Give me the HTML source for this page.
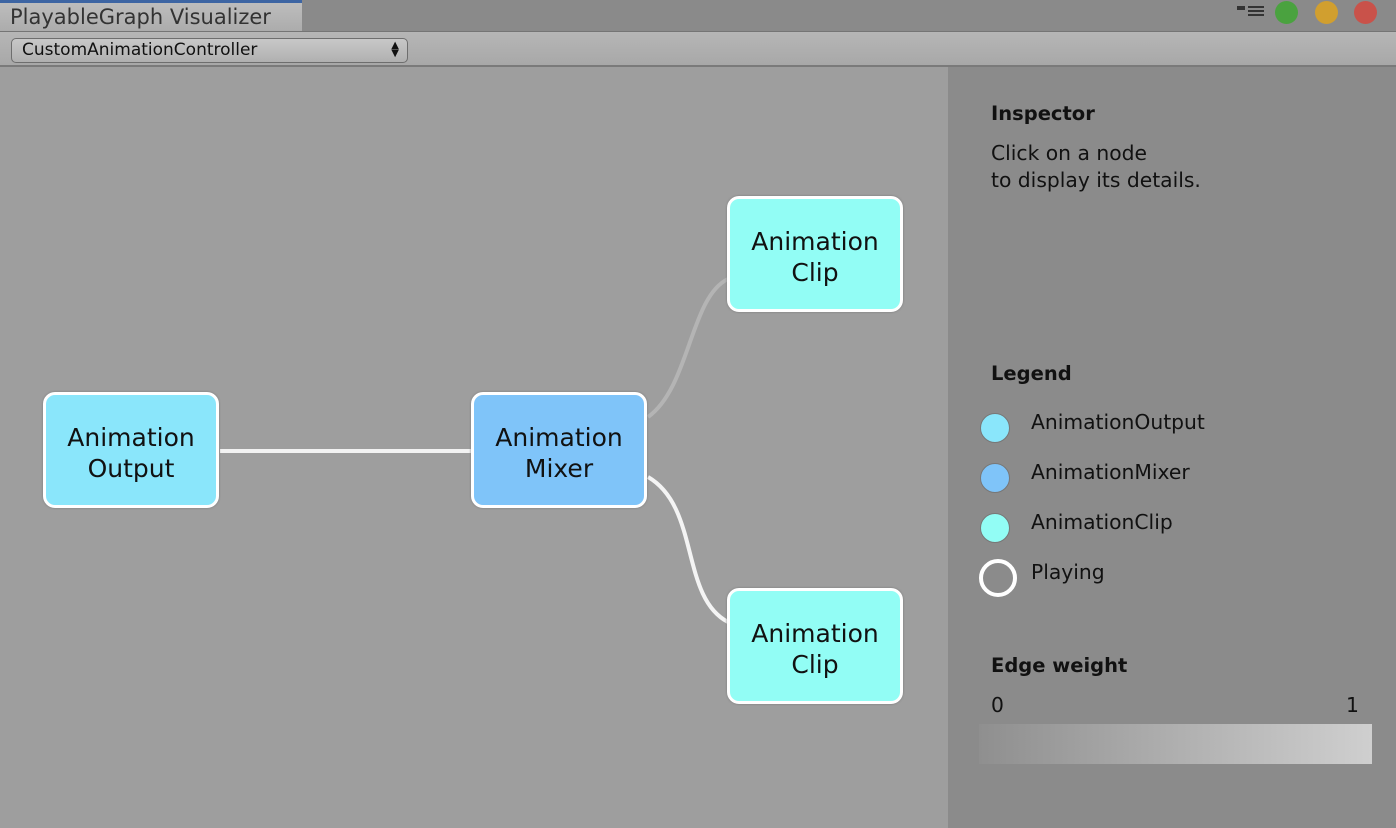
<!DOCTYPE html>
<html><head><style>
body{margin:0;width:1396px;height:828px;overflow:hidden;font-family:"DejaVu Sans",sans-serif;background:#9e9e9e;position:relative}
.top{position:absolute;left:0;top:0;width:1396px;height:31px;background:#8a8a8a}
.tab{position:absolute;left:0;top:0;width:302px;height:31px;background:linear-gradient(#bdbdbd,#acacac);border-top:3px solid #3d65a3;box-sizing:border-box;font-size:21px;color:#333;padding:2px 0 0 10px;white-space:nowrap}
.bar{position:absolute;left:0;top:31px;width:1396px;height:36px;background:linear-gradient(#b6b6b6,#a8a8a8);border-top:1px solid #757575;border-bottom:2px solid #7a7a7a;box-sizing:border-box}
.sel{position:absolute;left:11px;top:6px;width:397px;height:25px;border:1px solid #6e6e6e;border-radius:5px;background:linear-gradient(#c8c8c8,#b0b0b0);box-sizing:border-box;font-size:17px;padding:1px 0 0 10px;color:#111;white-space:nowrap}
.sel span{position:absolute;right:8px;top:3px;font-size:10px;line-height:8px}
.dot{position:absolute;top:1px;width:23px;height:23px;border-radius:50%}
.panel{position:absolute;left:948px;top:67px;width:448px;height:761px;background:#8b8b8b;color:#111;font-size:20.3px;white-space:nowrap}
.node{position:absolute;width:176px;height:116px;border:3px solid #fff;border-radius:12px;box-sizing:border-box;display:flex;align-items:center;justify-content:center;text-align:center;font-size:25px;line-height:31px;color:#111;box-shadow:0 0 2px #777;padding-top:5px}
.h{position:absolute;left:43px;font-weight:bold;font-size:19.5px}
.lg{position:absolute;left:32px;width:30px;height:30px;border-radius:50%;box-sizing:border-box}
.lt{position:absolute;left:83px}
</style></head><body>
<div class="top"><div class="tab">PlayableGraph Visualizer</div>
<div style="position:absolute;left:1237px;top:6px;width:8px;height:4px;background:#333"></div>
<div style="position:absolute;left:1248px;top:6px;width:16px;height:2px;background:#333;box-shadow:0 4px #333,0 8px #333"></div>
<div class="dot" style="left:1275px;background:#4aa23f"></div>
<div class="dot" style="left:1315px;background:#d19f2f"></div>
<div class="dot" style="left:1354px;background:#c9524a"></div></div>
<div class="bar"><div class="sel">CustomAnimationController<span>▲<br>▼</span></div></div>
<svg style="position:absolute;left:0;top:67px" width="948" height="761">
<path d="M220 384 L472 384" stroke="#f2f2f2" stroke-width="4" fill="none"/>
<path d="M648 350 C690 320,690 230,728 212" stroke="#b4b4b4" stroke-width="4" fill="none"/>
<path d="M648 410 C700 440,680 530,728 555" stroke="#f4f4f4" stroke-width="4" fill="none"/>
</svg>
<div class="node" style="left:43px;top:392px;background:#8ae6fb">Animation<br>Output</div>
<div class="node" style="left:471px;top:392px;background:#7fc4f9">Animation<br>Mixer</div>
<div class="node" style="left:727px;top:196px;background:#92fdf5">Animation<br>Clip</div>
<div class="node" style="left:727px;top:588px;background:#92fdf5">Animation<br>Clip</div>
<div class="panel">
<div class="h" style="top:35px">Inspector</div>
<div style="position:absolute;left:43px;top:73px;line-height:27px">Click on a node<br>to display its details.</div>
<div class="h" style="top:295px">Legend</div>
<div class="lg" style="top:346px;background:#8ae6fb;border:1px solid #777"></div><div class="lt" style="top:343px">AnimationOutput</div>
<div class="lg" style="top:396px;background:#7fc4f9;border:1px solid #777"></div><div class="lt" style="top:393px">AnimationMixer</div>
<div class="lg" style="top:446px;background:#92fdf5;border:1px solid #777"></div><div class="lt" style="top:443px">AnimationClip</div>
<div class="lg" style="top:492px;left:31px;width:38px;height:38px;border:4px solid #fff;background:#8b8b8b"></div><div class="lt" style="top:493px">Playing</div>
<div class="h" style="top:587px">Edge weight</div>
<div style="position:absolute;left:43px;top:626px">0</div>
<div style="position:absolute;left:398px;top:626px">1</div>
<div style="position:absolute;left:31px;top:657px;width:393px;height:40px;background:linear-gradient(90deg,#8f8f8f,#cfcfcf)"></div>
</div>
</body></html>
